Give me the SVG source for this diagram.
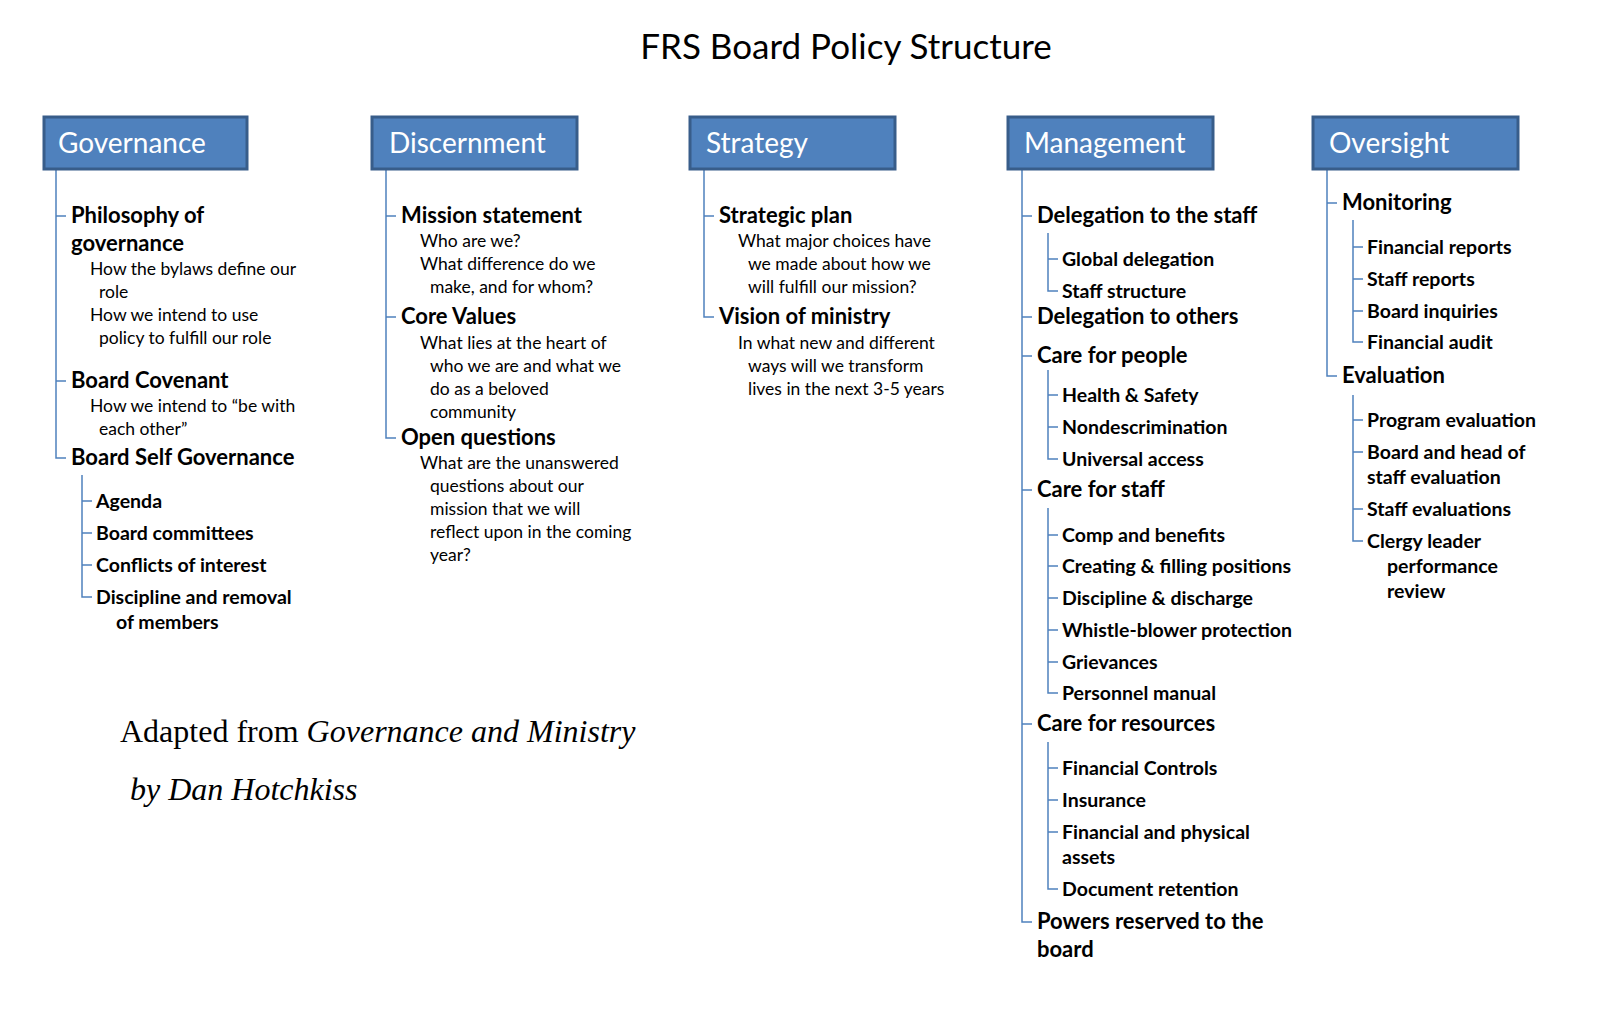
<svg xmlns="http://www.w3.org/2000/svg" width="1600" height="1009" viewBox="0 0 1600 1009">
<style>
text{font-family:Lato,"Open Sans","Liberation Sans",sans-serif;fill:#000}
.h rect{fill:#4F81BD;stroke:#385D8A;stroke-width:3}
.h text{fill:#fff;font-size:28px}
.l1{font-size:22px;font-weight:bold}
.l2{font-size:19.5px;font-weight:bold}
.d{font-size:17.5px}
.c path{fill:none;stroke:#4F81BD;stroke-width:1.5}
.f{font-family:"Liberation Serif",serif;font-size:32px}
</style>
<rect width="1600" height="1009" fill="#fff"/>
<text x="846" y="59" text-anchor="middle" style="font-size:35px">FRS Board Policy Structure</text>
<g class="c">
<path d="M56 170V458H66M56 216H66M56 381H66"/>
<path d="M82 475V597H92M82 501H92M82 533H92M82 565H92"/>
<path d="M386 170V438H396M386 216H396M386 317H396"/>
<path d="M704 170V317H714M704 216H714"/>
<path d="M1022 170V922H1032M1022 216H1032M1022 317H1032M1022 356H1032M1022 490H1032M1022 724H1032"/>
<path d="M1048 233V291H1058M1048 259H1058"/>
<path d="M1048 370V459H1058M1048 395H1058M1048 427H1058"/>
<path d="M1048 508V693H1058M1048 535H1058M1048 566H1058M1048 598H1058M1048 630H1058M1048 662H1058"/>
<path d="M1048 742V889H1058M1048 768H1058M1048 800H1058M1048 832H1058"/>
<path d="M1327 170V376H1337M1327 203H1337"/>
<path d="M1353 220V342H1363M1353 247H1363M1353 279H1363M1353 311H1363"/>
<path d="M1353 395V541H1363M1353 420H1363M1353 452H1363M1353 509H1363"/>
</g>
<g id="governance" class="h"><rect x="44" y="117" width="203" height="52"/><text x="58" y="153">Governance</text></g>
<g id="discernment" class="h"><rect x="372" y="117" width="205" height="52"/><text x="389" y="153">Discernment</text></g>
<g id="strategy" class="h"><rect x="690" y="117" width="205" height="52"/><text x="706" y="153">Strategy</text></g>
<g id="management" class="h"><rect x="1008" y="117" width="205" height="52"/><text x="1024" y="153">Management</text></g>
<g id="oversight" class="h"><rect x="1313" y="117" width="205" height="52"/><text x="1329" y="153">Oversight</text></g>
<g id="gov-items">
<text class="l1" x="71" y="223">Philosophy of</text>
<text class="l1" x="71" y="251">governance</text>
<text class="d" x="90" y="275">How the bylaws define our</text>
<text class="d" x="99" y="298">role</text>
<text class="d" x="90" y="321">How we intend to use</text>
<text class="d" x="99" y="344">policy to fulfill our role</text>
<text class="l1" x="71" y="388">Board Covenant</text>
<text class="d" x="90" y="412">How we intend to “be with</text>
<text class="d" x="99" y="435">each other”</text>
<text class="l1" x="71" y="465">Board Self Governance</text>
<text class="l2" x="96" y="508">Agenda</text>
<text class="l2" x="96" y="540">Board committees</text>
<text class="l2" x="96" y="572">Conflicts of interest</text>
<text class="l2" x="96" y="604">Discipline and removal</text>
<text class="l2" x="116" y="629">of members</text>
</g>
<g id="disc-items">
<text class="l1" x="401" y="223">Mission statement</text>
<text class="d" x="420" y="247">Who are we?</text>
<text class="d" x="420" y="270">What difference do we</text>
<text class="d" x="430" y="293">make, and for whom?</text>
<text class="l1" x="401" y="324">Core Values</text>
<text class="d" x="420" y="349">What lies at the heart of</text>
<text class="d" x="430" y="372">who we are and what we</text>
<text class="d" x="430" y="395">do as a beloved</text>
<text class="d" x="430" y="418">community</text>
<text class="l1" x="401" y="445">Open questions</text>
<text class="d" x="420" y="469">What are the unanswered</text>
<text class="d" x="430" y="492">questions about our</text>
<text class="d" x="430" y="515">mission that we will</text>
<text class="d" x="430" y="538">reflect upon in the coming</text>
<text class="d" x="430" y="561">year?</text>
</g>
<g id="strat-items">
<text class="l1" x="719" y="223">Strategic plan</text>
<text class="d" x="738" y="247">What major choices have</text>
<text class="d" x="748" y="270">we made about how we</text>
<text class="d" x="748" y="293">will fulfill our mission?</text>
<text class="l1" x="719" y="324">Vision of ministry</text>
<text class="d" x="738" y="349">In what new and different</text>
<text class="d" x="748" y="372">ways will we transform</text>
<text class="d" x="748" y="395">lives in the next 3-5 years</text>
</g>
<g id="mgmt-items">
<text class="l1" x="1037" y="223">Delegation to the staff</text>
<text class="l2" x="1062" y="266">Global delegation</text>
<text class="l2" x="1062" y="298">Staff structure</text>
<text class="l1" x="1037" y="324">Delegation to others</text>
<text class="l1" x="1037" y="363">Care for people</text>
<text class="l2" x="1062" y="402">Health &amp; Safety</text>
<text class="l2" x="1062" y="434">Nondescrimination</text>
<text class="l2" x="1062" y="466">Universal access</text>
<text class="l1" x="1037" y="497">Care for staff</text>
<text class="l2" x="1062" y="542">Comp and benefits</text>
<text class="l2" x="1062" y="573">Creating &amp; filling positions</text>
<text class="l2" x="1062" y="605">Discipline &amp; discharge</text>
<text class="l2" x="1062" y="637">Whistle-blower protection</text>
<text class="l2" x="1062" y="669">Grievances</text>
<text class="l2" x="1062" y="700">Personnel manual</text>
<text class="l1" x="1037" y="731">Care for resources</text>
<text class="l2" x="1062" y="775">Financial Controls</text>
<text class="l2" x="1062" y="807">Insurance</text>
<text class="l2" x="1062" y="839">Financial and physical</text>
<text class="l2" x="1062" y="864">assets</text>
<text class="l2" x="1062" y="896">Document retention</text>
<text class="l1" x="1037" y="929">Powers reserved to the</text>
<text class="l1" x="1037" y="957">board</text>
</g>
<g id="over-items">
<text class="l1" x="1342" y="210">Monitoring</text>
<text class="l2" x="1367" y="254">Financial reports</text>
<text class="l2" x="1367" y="286">Staff reports</text>
<text class="l2" x="1367" y="318">Board inquiries</text>
<text class="l2" x="1367" y="349">Financial audit</text>
<text class="l1" x="1342" y="383">Evaluation</text>
<text class="l2" x="1367" y="427">Program evaluation</text>
<text class="l2" x="1367" y="459">Board and head of</text>
<text class="l2" x="1367" y="484">staff evaluation</text>
<text class="l2" x="1367" y="516">Staff evaluations</text>
<text class="l2" x="1367" y="548">Clergy leader</text>
<text class="l2" x="1387" y="573">performance</text>
<text class="l2" x="1387" y="598">review</text>
</g>
<text class="f" x="120" y="742">Adapted from <tspan font-style="italic">Governance and Ministry</tspan></text>
<text class="f" x="130" y="800" font-style="italic">by Dan Hotchkiss</text>
</svg>
